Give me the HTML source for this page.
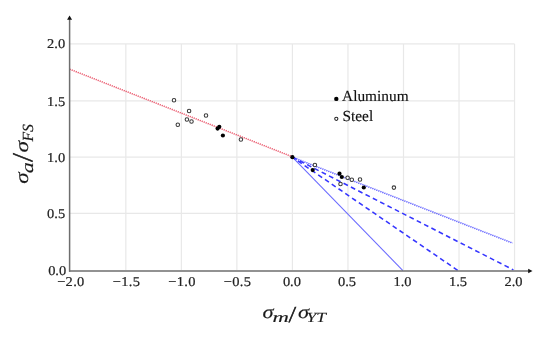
<!DOCTYPE html>
<html><head><meta charset="utf-8"><title>chart</title>
<style>
html,body{margin:0;padding:0;background:#fff;}
body{width:550px;height:337px;overflow:hidden;}
svg{display:block;filter:blur(0.35px);}
text{font-family:"Liberation Serif","DejaVu Serif",serif;fill:#222;text-rendering:geometricPrecision;}
.tk text{font-size:13.5px;stroke:#222;stroke-width:0.2px;}
.tk text.n{letter-spacing:0.3px;}
.lg text{font-size:15.35px;fill:#111;stroke:#111;stroke-width:0.15px;}
.ax text{font-style:italic;fill:#1a1a1a;}
</style></head>
<body>
<svg width="550" height="337" viewBox="0 0 550 337">
<rect width="550" height="337" fill="#fff"/>
<g stroke="#e8e8e8" stroke-width="1.2" fill="none">
<line x1="125.83" y1="43.90" x2="125.83" y2="269.90"/>
<line x1="181.36" y1="43.90" x2="181.36" y2="269.90"/>
<line x1="236.89" y1="43.90" x2="236.89" y2="269.90"/>
<line x1="292.42" y1="43.90" x2="292.42" y2="269.90"/>
<line x1="347.96" y1="43.90" x2="347.96" y2="269.90"/>
<line x1="403.49" y1="43.90" x2="403.49" y2="269.90"/>
<line x1="459.02" y1="43.90" x2="459.02" y2="269.90"/>
<line x1="514.55" y1="43.90" x2="514.55" y2="269.90"/>
<line x1="69.70" y1="213.30" x2="514.55" y2="213.30"/>
<line x1="69.70" y1="157.20" x2="514.55" y2="157.20"/>
<line x1="69.70" y1="100.80" x2="514.55" y2="100.80"/>
<line x1="69.70" y1="43.90" x2="514.55" y2="43.90"/>
</g>
<!-- lines -->
<line x1="69.7" y1="69.2" x2="292.4" y2="156.8" stroke="#e63a52" stroke-width="1.5" stroke-dasharray="1.05 1.099"/>
<line x1="292.4" y1="157.2" x2="402.9" y2="270.6" stroke="#6a6aff" stroke-width="1.05"/>
<line x1="292.4" y1="157.2" x2="457.8" y2="270.4" stroke="#3535ff" stroke-width="1.55" stroke-dasharray="4.8 3.41" stroke-dashoffset="1.6"/>
<line x1="292.4" y1="157.2" x2="513.4" y2="269.9" stroke="#3535ff" stroke-width="1.55" stroke-dasharray="4.8 3.41"/>
<line x1="292.4" y1="157.2" x2="512.6" y2="243.1" stroke="#3c3cff" stroke-width="1.5" stroke-dasharray="1.05 1.097"/>
<!-- axes -->
<g stroke="#6e6e6e" fill="none">
<line x1="69.6" y1="18.5" x2="69.6" y2="271.8" stroke-width="1.5"/>
<line x1="69" y1="271" x2="529" y2="271" stroke-width="1.7"/>
</g>
<polygon points="69.55,15.4 67.05,19.8 72.05,19.8" fill="#111"/>
<polygon points="532.5,271.0 528.2,268.7 528.2,273.3" fill="#111"/>
<!-- points -->
<g fill="#fff" stroke="#383838" stroke-width="1.05">
<circle cx="174" cy="100.3" r="1.75"/>
<circle cx="189.1" cy="111" r="1.75"/>
<circle cx="186.9" cy="119.5" r="1.75"/>
<circle cx="191.5" cy="121.5" r="1.75"/>
<circle cx="177.8" cy="124.8" r="1.75"/>
<circle cx="206" cy="115.5" r="1.75"/>
<circle cx="240.9" cy="139.4" r="1.75"/>
<circle cx="314.9" cy="165" r="1.75"/>
<circle cx="347.6" cy="177.7" r="1.75"/>
<circle cx="351.8" cy="179.7" r="1.75"/>
<circle cx="360" cy="179.5" r="1.75"/>
<circle cx="340.5" cy="183.9" r="1.75"/>
<circle cx="393.9" cy="187.6" r="1.75"/>
</g>
<g fill="#000">
<circle cx="219.3" cy="126.8" r="2.1"/>
<circle cx="217.6" cy="128.6" r="2.1"/>
<circle cx="222.9" cy="135.5" r="2.1"/>
<circle cx="292.4" cy="157.2" r="2.1"/>
<circle cx="312.7" cy="170.1" r="2.1"/>
<circle cx="339.5" cy="173.7" r="2.1"/>
<circle cx="341.8" cy="177" r="2.1"/>
<circle cx="363.8" cy="187.5" r="2.1"/>
</g>
<!-- ticks -->
<g class="tk">
<text class="n" transform="translate(70.90,286.1) scale(1.07,1)" text-anchor="middle">−2.0</text>
<text class="n" transform="translate(126.43,286.1) scale(1.07,1)" text-anchor="middle">−1.5</text>
<text class="n" transform="translate(181.96,286.1) scale(1.07,1)" text-anchor="middle">−1.0</text>
<text class="n" transform="translate(237.49,286.1) scale(1.07,1)" text-anchor="middle">−0.5</text>
<text transform="translate(291.92,286.1) scale(1.07,1)" text-anchor="middle">0.0</text>
<text transform="translate(346.96,286.1) scale(1.07,1)" text-anchor="middle">0.5</text>
<text transform="translate(402.49,286.1) scale(1.07,1)" text-anchor="middle">1.0</text>
<text transform="translate(458.02,286.1) scale(1.07,1)" text-anchor="middle">1.5</text>
<text transform="translate(513.55,286.1) scale(1.07,1)" text-anchor="middle">2.0</text>
<text transform="translate(66.20,275.00) scale(1.07,1)" text-anchor="end">0.0</text>
<text transform="translate(65.10,217.60) scale(1.07,1)" text-anchor="end">0.5</text>
<text transform="translate(65.10,162.10) scale(1.07,1)" text-anchor="end">1.0</text>
<text transform="translate(65.10,105.50) scale(1.07,1)" text-anchor="end">1.5</text>
<text transform="translate(65.10,48.20) scale(1.07,1)" text-anchor="end">2.0</text>
</g>
<!-- legend -->
<g class="lg">
<circle cx="336.3" cy="98.9" r="2.2" fill="#000"/>
<circle cx="336.3" cy="118.8" r="1.6" fill="#fff" stroke="#222" stroke-width="1.05"/>
<text x="342.1" y="101">Aluminum</text>
<text x="342.5" y="120.6">Steel</text>
</g>
<!-- axis labels -->
<g class="ax" stroke="#1a1a1a">
<text transform="translate(262.43,317.52) scale(1.1209,0.9136)" font-size="20" font-style="italic" stroke-width="0.177">σ</text>
<text transform="translate(272.38,322.20) scale(1.1335,0.7428)" font-size="20" font-style="italic" stroke-width="0.181">m</text>
<text transform="translate(289.44,321.98) scale(0.9127,1.1286)" font-size="20" font-style="italic" stroke-width="0.686">/</text>
<text transform="translate(297.93,317.52) scale(1.1209,0.9136)" font-size="20" font-style="italic" stroke-width="0.177">σ</text>
<text transform="translate(306.40,322.20) scale(0.8750,0.6949)" font-size="20" font-style="italic" stroke-width="0.217">YT</text>
<g transform="translate(0,182.8) rotate(-90)">
<text transform="translate(-0.99,27.81) scale(1.1512,0.9517)" font-size="20" font-style="italic" stroke-width="0.171">σ</text>
<text transform="translate(9.44,33.13) scale(1.1095,0.8421)" font-size="20" font-style="italic" stroke-width="0.174">a</text>
<text transform="translate(21.98,32.22) scale(1.0628,1.4201)" font-size="20" font-style="italic" stroke-width="0.564">/</text>
<text transform="translate(30.30,27.51) scale(1.1714,0.9517)" font-size="20" font-style="italic" stroke-width="0.170">σ</text>
<text transform="translate(41.18,32.65) scale(0.7817,0.7740)" font-size="20" font-style="italic" stroke-width="0.219">FS</text>
</g>
</g>
</svg>
</body></html>
